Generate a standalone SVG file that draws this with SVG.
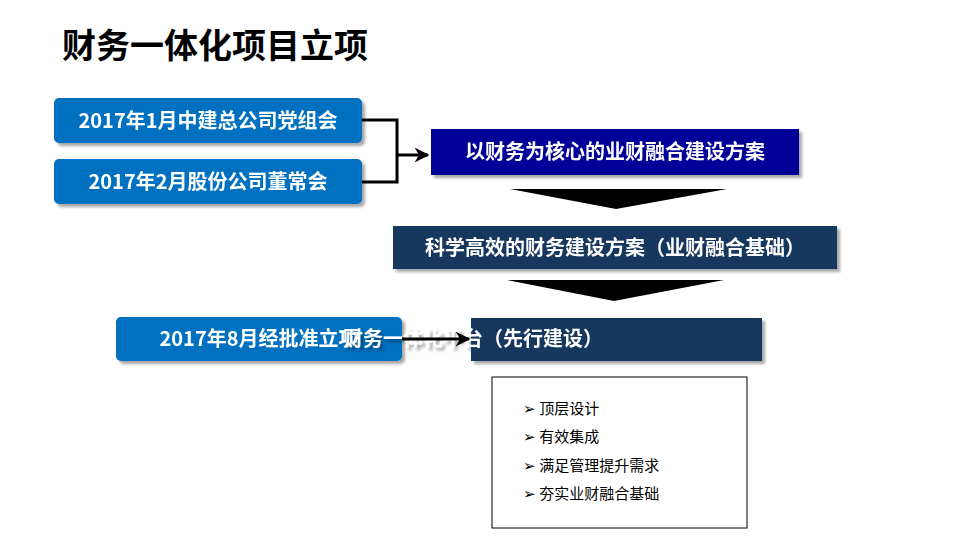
<svg xmlns="http://www.w3.org/2000/svg" width="967" height="544" viewBox="0 0 967 544">
<defs>
<style>
text{font-family:"Noto Sans CJK SC","Liberation Sans",sans-serif;font-weight:bold}
.w{fill:#fff;font-size:20px;text-anchor:middle}
.blue{fill:#0070C0}
.navy{fill:#17375E}
.li{font-size:15px;fill:#000;font-weight:normal}
.ln{stroke:#000;stroke-width:3;fill:none}
</style>
<filter id="sh" x="-5%" y="-10%" width="115%" height="130%"><feDropShadow dx="3" dy="3" stdDeviation="1.5" flood-color="#000" flood-opacity="0.35"/></filter>
<marker id="ar" viewBox="0 0 10 10" refX="9" refY="5" markerWidth="5" markerHeight="5" orient="auto"><path d="M0,0 L10,5 L0,10 L3,5 z" fill="#000"/></marker>
</defs>
<rect width="967" height="544" fill="#fff"/>
<text x="62" y="58" font-size="34" fill="#000">财务一体化项目立项</text>
<g id="n1" filter="url(#sh)"><rect class="blue" x="54" y="98" width="308" height="45" rx="5"/><text class="w" x="208" y="128">2017年1月中建总公司党组会</text></g>
<g id="n2" filter="url(#sh)"><rect class="blue" x="54" y="159" width="308" height="45" rx="5"/><text class="w" x="208" y="189">2017年2月股份公司董常会</text></g>
<g id="n3" filter="url(#sh)"><rect fill="#000099" x="431" y="129" width="368" height="46"/><text class="w" x="615" y="159">以财务为核心的业财融合建设方案</text></g>
<g id="n4" filter="url(#sh)"><rect class="navy" x="393" y="226" width="444" height="43"/><text class="w" x="615" y="255">科学高效的财务建设方案（业财融合基础）</text></g>
<g id="n5" filter="url(#sh)"><rect class="blue" x="116" y="317" width="286" height="44" rx="5"/><text class="w" x="259" y="346">2017年8月经批准立项</text></g>
<g id="n6" filter="url(#sh)"><rect class="navy" x="471" y="318" width="291" height="43"/><text class="w" x="473" y="346" text-anchor="start">财务一体化平台（先行建设）</text></g>
<g id="n7"><rect x="492" y="377" width="255" height="151" fill="#fff" stroke="#000" stroke-width="1"/>
<text class="li" x="523" y="414">➢ 顶层设计</text>
<text class="li" x="523" y="442">➢ 有效集成</text>
<text class="li" x="523" y="471">➢ 满足管理提升需求</text>
<text class="li" x="523" y="499">➢ 夯实业财融合基础</text></g>
<g id="connectors">
<path class="ln" d="M362,120 H397 V182 H362"/>
<path class="ln" d="M397,155 H428" marker-end="url(#ar)"/>
<path class="ln" d="M402,339 H469" marker-end="url(#ar)"/>
<path d="M510,189 H727 L616,209 z" fill="#000"/>
<path d="M507,280 H724 L614,301 z" fill="#000"/>
</g>
</svg>
